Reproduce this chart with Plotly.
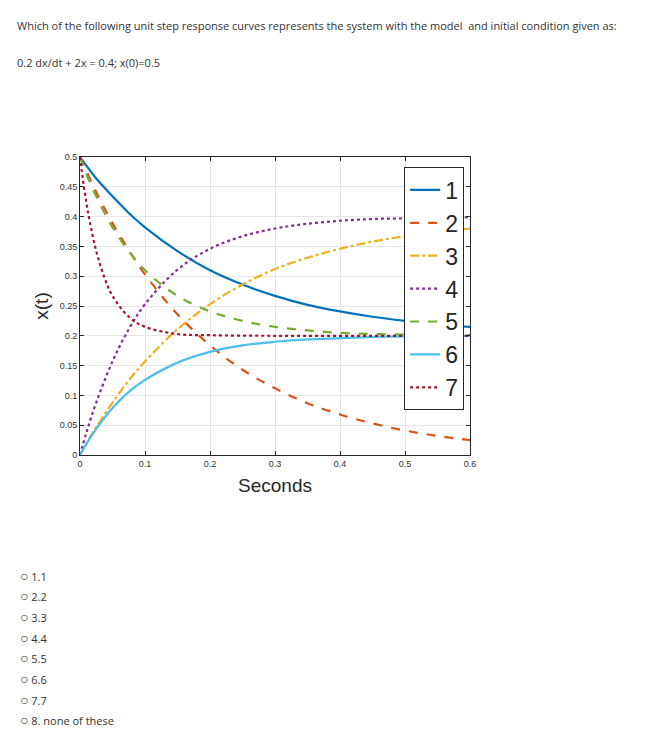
import plotly.graph_objects as go

t = [0, .01, .025, .05, .075, .1, .15, .2, .25, .3, .35, .4, .45, .5, .55, .6]
c1 = [.5, .485, .464, .434, .406, .382, .342, .310, .286, .267, .252, .241, .232, .225, .219, .215]
c2 = [.5, .476, .441, .389, .344, .303, .236, .184, .143, .112, .087, .068, .053, .041, .032, .025]
c3 = [0, .020, .047, .088, .125, .157, .211, .253, .286, .312, .331, .346, .358, .367, .374, .380]
c4 = [0, .038, .088, .157, .211, .253, .311, .346, .367, .380, .388, .393, .396, .397, .398, .399]
c5 = [.5, .471, .434, .382, .342, .310, .267, .241, .225, .215, .209, .205, .203, .202, .201, .201]
c6 = [0, .019, .044, .079, .106, .126, .155, .173, .184, .190, .194, .196, .198, .199, .199, .200]
t7 = [0, .005, .01, .015, .025, .0375, .05, .075, .1, .15, .2, .3, .4, .5, .6]
c7 = [.5, .458, .422, .392, .342, .298, .267, .232, .215, .203, .201, .200, .200, .200, .200]
xticks = [0, 0.1, 0.2, 0.3, 0.4, 0.5, 0.6]
yticks = [0, 0.05, 0.1, 0.15, 0.2, 0.25, 0.3, 0.35, 0.4, 0.45, 0.5]
ytick_labels = ["0", "0.05", "0.1", "0.15", "0.2", "0.25", "0.3", "0.35", "0.4", "0.45", "0.5"]
options = ["1.1", "2.2", "3.3", "4.4", "5.5", "6.6", "7.7", "8. none of these"]

fig = go.Figure()
specs = [
    ("1", t, c1, "#0072BD", "solid", 2.2),
    ("2", t, c2, "#D95319", "dash", 2.2),
    ("3", t, c3, "#EDB120", "dashdot", 2.2),
    ("4", t, c4, "#7E2F8E", "dot", 2.2),
    ("5", t, c5, "#77AC30", "dash", 2.2),
    ("6", t, c6, "#4DBEEE", "solid", 2.2),
    ("7", t7, c7, "#A2142F", "dot", 2.2),
]
for name, x, y, col, dash, w in specs:
    fig.add_trace(go.Scatter(x=x, y=y, name=name, mode="lines", line_shape="spline",
                             line=dict(color=col, dash=dash, width=w)))

ax = dict(showline=True, linecolor="#262626", mirror="ticks", ticks="inside", ticklen=4,
          tickcolor="#262626", showgrid=True, gridcolor="#e6e6e6", zeroline=False,
          tickfont=dict(size=9, color="#333", family="Liberation Sans"))
fig.update_xaxes(range=[0, 0.6], tickvals=xticks, **ax,
                 title=dict(text="Seconds", font=dict(size=19, color="#262626", family="Liberation Sans"), standoff=10))
fig.update_yaxes(range=[0, 0.5], tickvals=yticks, ticktext=ytick_labels, **ax,
                 title=dict(text="x(t)", font=dict(size=19, color="#262626", family="Liberation Sans"), standoff=6))

# positions in page pixels (offset for page margin)
OFF = 8
anns = [
    dict(x=15, y=25, text="Which of the following unit step response curves represents the system with the model  and initial condition given as:"),
    dict(x=15, y=62, text="0.2 dx/dt + 2x = 0.4; x(0)=0.5"),
]
for i, o in enumerate(options):
    anns.append(dict(x=18, y=575 + i * 20.7, text="<span style='font-size:14px'>○</span> " + o))
L, R, T, B = 72, 203, 149, 290
pw, ph = 665 - L - R, 737 - T - B
annotations = []
for a in anns:
    annotations.append(dict(x=(a["x"] - OFF - L) / pw, y=(737 - B - (a["y"] - OFF)) / ph,
                            xref="paper", yref="paper",
                            xanchor="left", yanchor="middle", showarrow=False, text=a["text"],
                            font=dict(size=11, color="#333", family="Open Sans")))

fig.update_layout(
    width=665, height=737, paper_bgcolor="white", plot_bgcolor="white",
    margin=dict(l=L, r=R, t=T, b=B), annotations=annotations,
    legend=dict(x=0.985, y=0.965, xanchor="right", yanchor="top", bgcolor="white",
                bordercolor="#262626", borderwidth=1, tracegroupgap=0,
                font=dict(size=23, color="#262626", family="Liberation Sans")),
)
fig.write_html("out.html")
